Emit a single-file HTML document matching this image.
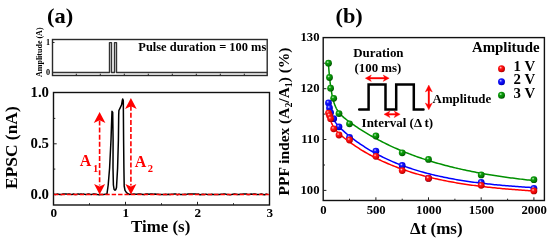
<!DOCTYPE html><html><head><meta charset="utf-8"><title>EPSC and PPF index</title><style>html,body{margin:0;padding:0;background:#fff;}svg{display:block;filter:blur(0.3px);}</style></head><body>
<svg width="550" height="241" viewBox="0 0 550 241">
<defs>
<radialGradient id="gR" cx="0.38" cy="0.35" r="0.65"><stop offset="0" stop-color="#ffd0d0"/><stop offset="0.3" stop-color="#ff1a1a"/><stop offset="0.8" stop-color="#e00000"/><stop offset="1" stop-color="#a00000"/></radialGradient>
<radialGradient id="gB" cx="0.38" cy="0.35" r="0.65"><stop offset="0" stop-color="#d0d0ff"/><stop offset="0.3" stop-color="#1a1aff"/><stop offset="0.8" stop-color="#0000e0"/><stop offset="1" stop-color="#0000a0"/></radialGradient>
<radialGradient id="gG" cx="0.38" cy="0.35" r="0.65"><stop offset="0" stop-color="#c8f0c8"/><stop offset="0.3" stop-color="#10a010"/><stop offset="0.8" stop-color="#007a00"/><stop offset="1" stop-color="#004a00"/></radialGradient>
</defs>
<rect width="550" height="241" fill="#fff"/>
<text x="47" y="23" font-size="21" textLength="26.2" lengthAdjust="spacingAndGlyphs" font-family="'Liberation Serif', 'Times New Roman', serif" font-weight="bold" fill="#000">(a)</text>
<rect x="52.5" y="39.5" width="214.7" height="36.0" fill="none" stroke="#2a2a2a" stroke-width="1.4"/>
<path d="M76.3,75.5V73.7M100.3,75.5V73.7M124.3,75.5V73.7M148.3,75.5V73.7M172.3,75.5V73.7M196.3,75.5V73.7M220.3,75.5V73.7M244.3,75.5V73.7M52.5,42.5H54.5M52.5,72.5H54.5" stroke="#222" stroke-width="1" fill="none"/>
<path d="M52.5,72.5H109.5V42.6H111.5V72.5H114.5V42.6H116.5V72.5H267.2" fill="none" stroke="#333" stroke-width="1.4" stroke-linejoin="round"/>
<text x="50" y="45" font-size="8.2" font-family="'Liberation Serif', 'Times New Roman', serif" font-weight="bold" text-anchor="end">1</text>
<text x="50" y="74.5" font-size="8.2" font-family="'Liberation Serif', 'Times New Roman', serif" font-weight="bold" text-anchor="end">0</text>
<text transform="translate(42.2,77) rotate(-90)" font-size="8" font-family="'Liberation Serif', 'Times New Roman', serif" font-weight="bold">Amplitude (A)</text>
<text x="138.3" y="51.4" font-size="11.6" textLength="128.0" lengthAdjust="spacingAndGlyphs" font-family="'Liberation Serif', 'Times New Roman', serif" font-weight="bold">Pulse duration = 100 ms</text>
<rect x="53.5" y="92.5" width="216.0" height="112.5" fill="none" stroke="#111" stroke-width="1.4"/>
<path d="M89.5,205V203.2M125.5,205V201.8M161.5,205V203.2M197.5,205V201.8M233.5,205V203.2M53.5,194.5H56.7M53.5,169.1H55.3M53.5,143.8H56.7M53.5,118.4H55.3" stroke="#222" stroke-width="1" fill="none"/>
<text x="49" y="97.2" font-size="14.8" font-family="'Liberation Serif', 'Times New Roman', serif" font-weight="bold" text-anchor="end">1.0</text>
<text x="49" y="147.9" font-size="14.8" font-family="'Liberation Serif', 'Times New Roman', serif" font-weight="bold" text-anchor="end">0.5</text>
<text x="49" y="198.7" font-size="14.8" font-family="'Liberation Serif', 'Times New Roman', serif" font-weight="bold" text-anchor="end">0.0</text>
<text x="53.7" y="217.3" font-size="13.2" font-family="'Liberation Serif', 'Times New Roman', serif" font-weight="bold" text-anchor="middle">0</text>
<text x="125.7" y="217.3" font-size="13.2" font-family="'Liberation Serif', 'Times New Roman', serif" font-weight="bold" text-anchor="middle">1</text>
<text x="197.7" y="217.3" font-size="13.2" font-family="'Liberation Serif', 'Times New Roman', serif" font-weight="bold" text-anchor="middle">2</text>
<text x="269.7" y="217.3" font-size="13.2" font-family="'Liberation Serif', 'Times New Roman', serif" font-weight="bold" text-anchor="middle">3</text>
<text x="131" y="232" font-size="16.5" textLength="59.3" lengthAdjust="spacingAndGlyphs" font-family="'Liberation Serif', 'Times New Roman', serif" font-weight="bold">Time (s)</text>
<text transform="translate(17,189) rotate(-90)" font-size="16.5" textLength="82.7" lengthAdjust="spacingAndGlyphs" font-family="'Liberation Serif', 'Times New Roman', serif" font-weight="bold">EPSC (nA)</text>
<path d="M54.0,194.3 L55.5,194.5 L57.0,194.1 L58.5,194.3 L60.0,194.6 L61.5,194.6 L63.0,194.0 L64.5,194.1 L66.0,193.9 L67.5,194.3 L69.0,193.9 L70.5,194.3 L72.0,194.4 L73.5,194.1 L75.0,194.4 L76.5,194.4 L78.0,193.9 L79.5,194.3 L81.0,194.1 L82.5,194.2 L84.0,194.1 L85.5,194.5 L87.0,194.3 L88.5,194.0 L90.0,194.3 L91.5,194.5 L93.0,194.1 L94.5,194.1 L96.0,194.2 L97.5,194.6 L99.0,194.7 L100.5,194.4 L102.0,194.6 L103.5,194.6 L105.0,194.2 L106.5,194.0 L107.0,193.6 L108.2,185.0 L109.6,168.0 L110.5,150.0 L111.0,140.0 L111.5,125.0 L112.0,111.3 L112.7,112.5 L113.1,140.0 L113.0,168.0 L113.4,185.0 L114.1,189.5 L115.0,190.2 L115.8,189.6 L116.5,187.5 L117.6,168.0 L118.4,140.0 L118.7,115.0 L118.9,110.5 L120.3,107.6 L121.6,104.8 L122.2,101.0 L122.7,99.0 L123.3,100.5 L123.6,140.0 L123.9,168.0 L124.2,186.0 L125.0,190.3 L126.5,192.6 L128.2,193.8 L129.5,194.4 L131.0,194.3 L132.5,194.2 L134.0,194.1 L135.5,194.2 L137.0,194.3 L138.5,194.1 L140.0,194.1 L141.5,194.3 L143.0,194.6 L144.5,194.4 L146.0,194.1 L147.5,194.1 L149.0,194.3 L150.5,194.1 L152.0,194.1 L153.5,194.3 L155.0,194.0 L156.5,194.3 L158.0,194.2 L159.5,194.5 L161.0,194.5 L162.5,194.5 L164.0,194.5 L165.5,194.2 L167.0,194.4 L168.5,194.2 L170.0,194.4 L171.5,194.2 L173.0,194.3 L174.5,193.9 L176.0,194.1 L177.5,194.7 L179.0,194.1 L180.5,194.5 L182.0,194.4 L183.5,194.5 L185.0,194.3 L186.5,194.4 L188.0,194.0 L189.5,194.0 L191.0,194.1 L192.5,194.0 L194.0,194.0 L195.5,194.0 L197.0,194.3 L198.5,194.1 L200.0,194.7 L201.5,194.4 L203.0,194.3 L204.5,194.5 L206.0,194.1 L207.5,194.6 L209.0,194.6 L210.5,194.5 L212.0,194.3 L213.5,194.6 L215.0,194.5 L216.5,194.4 L218.0,194.6 L219.5,194.4 L221.0,194.2 L222.5,194.3 L224.0,194.1 L225.5,194.1 L227.0,194.5 L228.5,194.5 L230.0,194.7 L231.5,194.6 L233.0,194.3 L234.5,194.0 L236.0,194.3 L237.5,194.6 L239.0,194.5 L240.5,194.3 L242.0,194.3 L243.5,194.1 L245.0,194.0 L246.5,194.0 L248.0,194.6 L249.5,194.4 L251.0,194.0 L252.5,194.2 L254.0,193.9 L255.5,194.1 L257.0,194.5 L258.5,194.4 L260.0,194.3 L261.5,194.1 L263.0,194.4 L264.5,194.7 L266.0,194.2 L267.5,194.0" fill="none" stroke="#000" stroke-width="1.5" stroke-linejoin="round"/>
<path d="M54.1,194.5H268.9" stroke="#ff0000" stroke-width="1.5" stroke-dasharray="4.4 2"/>
<path d="M99.6,120.5V185.5" stroke="#ff0000" stroke-width="1.6" stroke-dasharray="5 2.1"/>
<path d="M99.6,112L93.8,123L99.6,120.3L105.39999999999999,123Z" fill="#ff0000"/>
<path d="M99.6,194.5L94.1,184.1L99.6,186.4L105.1,184.1Z" fill="#ff0000"/>
<path d="M130.9,105.7V185.5" stroke="#ff0000" stroke-width="1.6" stroke-dasharray="5 2.1"/>
<path d="M130.9,98L125.10000000000001,109L130.9,106.3L136.70000000000002,109Z" fill="#ff0000"/>
<path d="M130.9,194.5L125.4,184.1L130.9,186.4L136.4,184.1Z" fill="#ff0000"/>
<text x="79.8" y="166.4" font-size="16" font-family="'Liberation Serif', 'Times New Roman', serif" font-weight="bold" fill="#ff0000">A</text>
<text x="93" y="172" font-size="10.5" font-family="'Liberation Serif', 'Times New Roman', serif" font-weight="bold" fill="#ff0000">1</text>
<text x="134.8" y="167.3" font-size="16" font-family="'Liberation Serif', 'Times New Roman', serif" font-weight="bold" fill="#ff0000">A</text>
<text x="147.7" y="172.4" font-size="10.5" font-family="'Liberation Serif', 'Times New Roman', serif" font-weight="bold" fill="#ff0000">2</text>
<text x="335.5" y="23" font-size="21" textLength="27.3" lengthAdjust="spacingAndGlyphs" font-family="'Liberation Serif', 'Times New Roman', serif" font-weight="bold" fill="#000">(b)</text>
<rect x="323.2" y="37.6" width="221.2" height="162.9" fill="none" stroke="#111" stroke-width="1.4"/>
<path d="M349.5,200.5V198.7M375.9,200.5V197.3M402.2,200.5V198.7M428.5,200.5V197.3M454.9,200.5V198.7M481.2,200.5V197.3M507.6,200.5V198.7M533.9,200.5V197.3M323.2,190.4H326.4M323.2,165.0H325.0M323.2,139.5H326.4M323.2,114.1H325.0M323.2,88.7H326.4M323.2,63.2H325.0" stroke="#222" stroke-width="1" fill="none"/>
<text x="319.5" y="193.7" font-size="12.7" font-family="'Liberation Serif', 'Times New Roman', serif" font-weight="bold" text-anchor="end">100</text>
<text x="319.5" y="142.8" font-size="12.7" font-family="'Liberation Serif', 'Times New Roman', serif" font-weight="bold" text-anchor="end">110</text>
<text x="319.5" y="92.0" font-size="12.7" font-family="'Liberation Serif', 'Times New Roman', serif" font-weight="bold" text-anchor="end">120</text>
<text x="319.5" y="41.1" font-size="12.7" font-family="'Liberation Serif', 'Times New Roman', serif" font-weight="bold" text-anchor="end">130</text>
<text x="323.5" y="214.3" font-size="12.7" font-family="'Liberation Serif', 'Times New Roman', serif" font-weight="bold" text-anchor="middle">0</text>
<text x="376.2" y="214.3" font-size="12.7" font-family="'Liberation Serif', 'Times New Roman', serif" font-weight="bold" text-anchor="middle">500</text>
<text x="428.8" y="214.3" font-size="12.7" font-family="'Liberation Serif', 'Times New Roman', serif" font-weight="bold" text-anchor="middle">1000</text>
<text x="481.5" y="214.3" font-size="12.7" font-family="'Liberation Serif', 'Times New Roman', serif" font-weight="bold" text-anchor="middle">1500</text>
<text x="534.2" y="214.3" font-size="12.7" font-family="'Liberation Serif', 'Times New Roman', serif" font-weight="bold" text-anchor="middle">2000</text>
<text x="410" y="234" font-size="16" textLength="52.6" lengthAdjust="spacingAndGlyphs" font-family="'Liberation Serif', 'Times New Roman', serif" font-weight="bold">&#916;t (ms)</text>
<text transform="translate(288.7,195.5) rotate(-90)" font-size="15" textLength="148" lengthAdjust="spacingAndGlyphs" font-family="'Liberation Serif', 'Times New Roman', serif" font-weight="bold">PPF index (A<tspan font-size="9.5" dy="3">2</tspan><tspan dy="-3">/A</tspan><tspan font-size="9.5" dy="3">1</tspan><tspan dy="-3">) (%)</tspan></text>
<path d="M328.47,64.34 L328.65,66.71 L328.82,68.95 L329.00,71.09 L329.18,73.12 L329.36,75.04 L329.54,76.87 L329.72,78.61 L329.90,80.26 L330.07,81.84 L330.25,83.33 L330.43,84.76 L330.61,86.11 L330.79,87.40 L330.97,88.62 L331.15,89.79 L331.32,90.91 L331.50,91.97 L331.68,92.98 L331.86,93.95 L332.04,94.87 L332.22,95.75 L332.40,96.59 L332.57,97.39 L332.75,98.16 L332.93,98.89 L333.11,99.59 L333.29,100.27 L333.47,100.91 L333.65,101.53 L333.82,102.12 L334.00,102.68 L334.18,103.23 L334.36,103.75 L334.54,104.25 L334.72,104.74 L334.90,105.20 L335.07,105.65 L335.25,106.08 L335.43,106.49 L335.61,106.89 L335.79,107.28 L335.97,107.65 L336.15,108.01 L336.32,108.36 L336.50,108.70 L336.68,109.03 L336.86,109.34 L337.04,109.65 L337.22,109.95 L337.40,110.24 L337.57,110.52 L337.75,110.80 L337.93,111.06 L338.11,111.32 L338.29,111.58 L338.47,111.83 L338.65,112.07 L338.82,112.30 L339.00,112.53 L339.00,112.53 L340.64,114.44 L342.28,116.09 L343.92,117.56 L345.55,118.93 L347.19,120.22 L348.83,121.46 L350.47,122.66 L352.10,123.83 L353.74,124.97 L355.38,126.09 L357.02,127.19 L358.66,128.26 L360.29,129.32 L361.93,130.36 L363.57,131.38 L365.21,132.39 L366.84,133.37 L368.48,134.34 L370.12,135.30 L371.76,136.24 L373.40,137.16 L375.03,138.06 L376.67,138.95 L378.31,139.83 L379.95,140.69 L381.59,141.54 L383.22,142.37 L384.86,143.19 L386.50,143.99 L388.14,144.78 L389.77,145.56 L391.41,146.32 L393.05,147.07 L394.69,147.81 L396.33,148.54 L397.96,149.25 L399.60,149.95 L401.24,150.64 L402.88,151.32 L404.51,151.98 L406.15,152.64 L407.79,153.28 L409.43,153.91 L411.07,154.54 L412.70,155.15 L414.34,155.75 L415.98,156.34 L417.62,156.92 L419.25,157.49 L420.89,158.05 L422.53,158.60 L424.17,159.15 L425.81,159.68 L427.44,160.20 L429.08,160.72 L430.72,161.23 L432.36,161.72 L433.99,162.21 L435.63,162.69 L437.27,163.17 L438.91,163.63 L440.55,164.09 L442.18,164.54 L443.82,164.98 L445.46,165.41 L447.10,165.84 L448.73,166.26 L450.37,166.67 L452.01,167.08 L453.65,167.48 L455.29,167.87 L456.92,168.26 L458.56,168.63 L460.20,169.01 L461.84,169.37 L463.47,169.73 L465.11,170.09 L466.75,170.43 L468.39,170.78 L470.03,171.11 L471.66,171.44 L473.30,171.77 L474.94,172.09 L476.58,172.40 L478.21,172.71 L479.85,173.01 L481.49,173.31 L483.13,173.60 L484.77,173.89 L486.40,174.17 L488.04,174.45 L489.68,174.73 L491.32,175.00 L492.96,175.26 L494.59,175.52 L496.23,175.78 L497.87,176.03 L499.51,176.27 L501.14,176.52 L502.78,176.76 L504.42,176.99 L506.06,177.22 L507.70,177.45 L509.33,177.67 L510.97,177.89 L512.61,178.10 L514.25,178.32 L515.88,178.52 L517.52,178.73 L519.16,178.93 L520.80,179.13 L522.44,179.32 L524.07,179.51 L525.71,179.70 L527.35,179.89 L528.99,180.07 L530.62,180.25 L532.26,180.42 L533.90,180.59" fill="none" stroke="#009000" stroke-width="1.5"/>
<path d="M328.47,103.66 L328.65,104.57 L328.82,105.44 L329.00,106.27 L329.18,107.06 L329.36,107.82 L329.54,108.55 L329.72,109.25 L329.90,109.92 L330.07,110.57 L330.25,111.18 L330.43,111.78 L330.61,112.35 L330.79,112.89 L330.97,113.42 L331.15,113.93 L331.32,114.42 L331.50,114.90 L331.68,115.35 L331.86,115.79 L332.04,116.22 L332.22,116.63 L332.40,117.03 L332.57,117.42 L332.75,117.79 L332.93,118.16 L333.11,118.51 L333.29,118.85 L333.47,119.18 L333.65,119.51 L333.82,119.83 L334.00,120.13 L334.18,120.43 L334.36,120.73 L334.54,121.01 L334.72,121.29 L334.90,121.56 L335.07,121.83 L335.25,122.09 L335.43,122.35 L335.61,122.60 L335.79,122.85 L335.97,123.09 L336.15,123.33 L336.32,123.56 L336.50,123.79 L336.68,124.02 L336.86,124.24 L337.04,124.46 L337.22,124.68 L337.40,124.89 L337.57,125.10 L337.75,125.31 L337.93,125.51 L338.11,125.71 L338.29,125.91 L338.47,126.11 L338.65,126.31 L338.82,126.50 L339.00,126.69 L339.00,126.69 L340.64,128.37 L342.28,129.93 L343.92,131.42 L345.55,132.85 L347.19,134.23 L348.83,135.57 L350.47,136.87 L352.10,138.14 L353.74,139.38 L355.38,140.59 L357.02,141.77 L358.66,142.93 L360.29,144.05 L361.93,145.15 L363.57,146.23 L365.21,147.28 L366.84,148.30 L368.48,149.30 L370.12,150.28 L371.76,151.24 L373.40,152.17 L375.03,153.08 L376.67,153.97 L378.31,154.84 L379.95,155.69 L381.59,156.52 L383.22,157.34 L384.86,158.13 L386.50,158.90 L388.14,159.66 L389.77,160.40 L391.41,161.12 L393.05,161.82 L394.69,162.51 L396.33,163.19 L397.96,163.84 L399.60,164.49 L401.24,165.11 L402.88,165.73 L404.51,166.32 L406.15,166.91 L407.79,167.48 L409.43,168.04 L411.07,168.58 L412.70,169.12 L414.34,169.64 L415.98,170.14 L417.62,170.64 L419.25,171.13 L420.89,171.60 L422.53,172.06 L424.17,172.51 L425.81,172.96 L427.44,173.39 L429.08,173.81 L430.72,174.22 L432.36,174.62 L433.99,175.02 L435.63,175.40 L437.27,175.78 L438.91,176.14 L440.55,176.50 L442.18,176.85 L443.82,177.19 L445.46,177.52 L447.10,177.85 L448.73,178.17 L450.37,178.48 L452.01,178.78 L453.65,179.08 L455.29,179.37 L456.92,179.65 L458.56,179.93 L460.20,180.20 L461.84,180.46 L463.47,180.72 L465.11,180.97 L466.75,181.22 L468.39,181.46 L470.03,181.70 L471.66,181.92 L473.30,182.15 L474.94,182.37 L476.58,182.58 L478.21,182.79 L479.85,182.99 L481.49,183.19 L483.13,183.39 L484.77,183.58 L486.40,183.77 L488.04,183.95 L489.68,184.12 L491.32,184.30 L492.96,184.47 L494.59,184.63 L496.23,184.79 L497.87,184.95 L499.51,185.11 L501.14,185.26 L502.78,185.40 L504.42,185.55 L506.06,185.69 L507.70,185.82 L509.33,185.96 L510.97,186.09 L512.61,186.22 L514.25,186.34 L515.88,186.46 L517.52,186.58 L519.16,186.70 L520.80,186.81 L522.44,186.93 L524.07,187.03 L525.71,187.14 L527.35,187.24 L528.99,187.34 L530.62,187.44 L532.26,187.54 L533.90,187.63" fill="none" stroke="#0000ff" stroke-width="1.5"/>
<path d="M328.47,112.62 L328.65,113.45 L328.82,114.25 L329.00,115.01 L329.18,115.74 L329.36,116.44 L329.54,117.11 L329.72,117.74 L329.90,118.35 L330.07,118.94 L330.25,119.50 L330.43,120.04 L330.61,120.56 L330.79,121.06 L330.97,121.54 L331.15,122.00 L331.32,122.44 L331.50,122.87 L331.68,123.28 L331.86,123.68 L332.04,124.06 L332.22,124.43 L332.40,124.79 L332.57,125.14 L332.75,125.48 L332.93,125.81 L333.11,126.12 L333.29,126.43 L333.47,126.73 L333.65,127.02 L333.82,127.31 L334.00,127.58 L334.18,127.85 L334.36,128.11 L334.54,128.37 L334.72,128.62 L334.90,128.87 L335.07,129.10 L335.25,129.34 L335.43,129.57 L335.61,129.79 L335.79,130.02 L335.97,130.23 L336.15,130.45 L336.32,130.65 L336.50,130.86 L336.68,131.06 L336.86,131.26 L337.04,131.46 L337.22,131.65 L337.40,131.84 L337.57,132.03 L337.75,132.22 L337.93,132.40 L338.11,132.58 L338.29,132.76 L338.47,132.94 L338.65,133.12 L338.82,133.29 L339.00,133.46 L339.00,133.46 L340.64,134.97 L342.28,136.38 L343.92,137.73 L345.55,139.03 L347.19,140.28 L348.83,141.50 L350.47,142.69 L352.10,143.85 L353.74,144.98 L355.38,146.08 L357.02,147.17 L358.66,148.22 L360.29,149.26 L361.93,150.27 L363.57,151.26 L365.21,152.23 L366.84,153.17 L368.48,154.10 L370.12,155.00 L371.76,155.89 L373.40,156.75 L375.03,157.60 L376.67,158.43 L378.31,159.24 L379.95,160.03 L381.59,160.81 L383.22,161.56 L384.86,162.30 L386.50,163.03 L388.14,163.74 L389.77,164.43 L391.41,165.11 L393.05,165.77 L394.69,166.42 L396.33,167.06 L397.96,167.68 L399.60,168.28 L401.24,168.88 L402.88,169.46 L404.51,170.03 L406.15,170.58 L407.79,171.13 L409.43,171.66 L411.07,172.18 L412.70,172.69 L414.34,173.18 L415.98,173.67 L417.62,174.14 L419.25,174.61 L420.89,175.06 L422.53,175.51 L424.17,175.94 L425.81,176.37 L427.44,176.79 L429.08,177.19 L430.72,177.59 L432.36,177.98 L433.99,178.36 L435.63,178.73 L437.27,179.10 L438.91,179.45 L440.55,179.80 L442.18,180.14 L443.82,180.48 L445.46,180.80 L447.10,181.12 L448.73,181.43 L450.37,181.74 L452.01,182.04 L453.65,182.33 L455.29,182.62 L456.92,182.89 L458.56,183.17 L460.20,183.43 L461.84,183.70 L463.47,183.95 L465.11,184.20 L466.75,184.45 L468.39,184.68 L470.03,184.92 L471.66,185.15 L473.30,185.37 L474.94,185.59 L476.58,185.80 L478.21,186.01 L479.85,186.22 L481.49,186.42 L483.13,186.61 L484.77,186.80 L486.40,186.99 L488.04,187.17 L489.68,187.35 L491.32,187.53 L492.96,187.70 L494.59,187.87 L496.23,188.03 L497.87,188.19 L499.51,188.35 L501.14,188.50 L502.78,188.65 L504.42,188.80 L506.06,188.94 L507.70,189.08 L509.33,189.22 L510.97,189.35 L512.61,189.48 L514.25,189.61 L515.88,189.74 L517.52,189.86 L519.16,189.98 L520.80,190.10 L522.44,190.21 L524.07,190.33 L525.71,190.44 L527.35,190.54 L528.99,190.65 L530.62,190.75 L532.26,190.85 L533.90,190.95" fill="none" stroke="#ff0000" stroke-width="1.5"/>
<circle cx="328.5" cy="63.2" r="3.4" fill="url(#gG)"/>
<circle cx="329.5" cy="77.5" r="3.4" fill="url(#gG)"/>
<circle cx="330.6" cy="88.2" r="3.4" fill="url(#gG)"/>
<circle cx="333.7" cy="98.3" r="3.4" fill="url(#gG)"/>
<circle cx="339.0" cy="113.6" r="3.4" fill="url(#gG)"/>
<circle cx="349.5" cy="123.8" r="3.4" fill="url(#gG)"/>
<circle cx="375.9" cy="136.0" r="3.4" fill="url(#gG)"/>
<circle cx="402.2" cy="152.8" r="3.4" fill="url(#gG)"/>
<circle cx="428.5" cy="159.4" r="3.4" fill="url(#gG)"/>
<circle cx="481.2" cy="174.9" r="3.4" fill="url(#gG)"/>
<circle cx="533.9" cy="179.7" r="3.4" fill="url(#gG)"/>
<circle cx="328.5" cy="102.9" r="3.4" fill="url(#gB)"/>
<circle cx="329.5" cy="108.0" r="3.4" fill="url(#gB)"/>
<circle cx="330.6" cy="112.6" r="3.4" fill="url(#gB)"/>
<circle cx="333.7" cy="118.7" r="3.4" fill="url(#gB)"/>
<circle cx="339.0" cy="126.8" r="3.4" fill="url(#gB)"/>
<circle cx="349.5" cy="137.5" r="3.4" fill="url(#gB)"/>
<circle cx="375.9" cy="151.2" r="3.4" fill="url(#gB)"/>
<circle cx="402.2" cy="165.5" r="3.4" fill="url(#gB)"/>
<circle cx="428.5" cy="178.2" r="3.4" fill="url(#gB)"/>
<circle cx="481.2" cy="182.3" r="3.4" fill="url(#gB)"/>
<circle cx="533.9" cy="188.4" r="3.4" fill="url(#gB)"/>
<circle cx="328.5" cy="113.1" r="3.4" fill="url(#gR)"/>
<circle cx="329.5" cy="115.6" r="3.4" fill="url(#gR)"/>
<circle cx="330.6" cy="118.7" r="3.4" fill="url(#gR)"/>
<circle cx="333.7" cy="128.8" r="3.4" fill="url(#gR)"/>
<circle cx="339.0" cy="135.0" r="3.4" fill="url(#gR)"/>
<circle cx="349.5" cy="140.0" r="3.4" fill="url(#gR)"/>
<circle cx="375.9" cy="156.3" r="3.4" fill="url(#gR)"/>
<circle cx="402.2" cy="170.6" r="3.4" fill="url(#gR)"/>
<circle cx="428.5" cy="178.4" r="3.4" fill="url(#gR)"/>
<circle cx="481.2" cy="185.3" r="3.4" fill="url(#gR)"/>
<circle cx="533.9" cy="190.9" r="3.4" fill="url(#gR)"/>
<text x="472.0" y="51.7" font-size="13.8" textLength="67.7" lengthAdjust="spacingAndGlyphs" font-family="'Liberation Serif', 'Times New Roman', serif" font-weight="bold">Amplitude</text>
<circle cx="501.5" cy="68.7" r="3.5" fill="url(#gR)"/>
<text x="513.6" y="70.9" font-size="13.8" textLength="21.6" lengthAdjust="spacingAndGlyphs" font-family="'Liberation Serif', 'Times New Roman', serif" font-weight="bold">1 V</text>
<circle cx="501.5" cy="81.8" r="3.5" fill="url(#gB)"/>
<text x="513.6" y="84.3" font-size="13.8" textLength="21.6" lengthAdjust="spacingAndGlyphs" font-family="'Liberation Serif', 'Times New Roman', serif" font-weight="bold">2 V</text>
<circle cx="501.5" cy="95.2" r="3.5" fill="url(#gG)"/>
<text x="513.6" y="97.6" font-size="13.8" textLength="21.6" lengthAdjust="spacingAndGlyphs" font-family="'Liberation Serif', 'Times New Roman', serif" font-weight="bold">3 V</text>
<text x="353.2" y="57.1" font-size="12.8" textLength="50.4" lengthAdjust="spacingAndGlyphs" font-family="'Liberation Serif', 'Times New Roman', serif" font-weight="bold">Duration</text>
<text x="354.5" y="72.1" font-size="12.8" textLength="46.9" lengthAdjust="spacingAndGlyphs" font-family="'Liberation Serif', 'Times New Roman', serif" font-weight="bold">(100 ms)</text>
<path d="M359.2,109.5H368.6V84.6H385.5V109.5H396.2V84.6H413.8V109.5H423.5" fill="none" stroke="#000" stroke-width="2.5" stroke-linecap="round" stroke-linejoin="miter"/>
<path d="M369.12,78.2H385.38" stroke="#ff0000" stroke-width="1.9"/><path d="M365.3,78.2L371.3,75.0L369.62,78.2L371.3,81.4Z M389.2,78.2L383.2,75.0L384.88,78.2L383.2,81.4Z" fill="#ff0000" stroke="#ff0000" stroke-width="0.4" stroke-linejoin="round"/>
<path d="M387.82,114.3H396.38" stroke="#ff0000" stroke-width="1.9"/><path d="M384.0,114.3L390.0,111.0L388.32,114.3L390.0,117.6Z M400.2,114.3L394.2,111.0L395.88,114.3L394.2,117.6Z" fill="#ff0000" stroke="#ff0000" stroke-width="0.4" stroke-linejoin="round"/>
<path d="M428.8,89.496V105.404" stroke="#ff0000" stroke-width="1.9"/><path d="M428.8,85.1L425.3,91.89999999999999L428.8,89.996L432.3,91.89999999999999Z M428.8,109.8L425.3,103.0L428.8,104.904L432.3,103.0Z" fill="#ff0000" stroke="#ff0000" stroke-width="0.4" stroke-linejoin="round"/>
<text x="432.6" y="103.3" font-size="12.6" textLength="58.6" lengthAdjust="spacingAndGlyphs" font-family="'Liberation Serif', 'Times New Roman', serif" font-weight="bold">Amplitude</text>
<text x="361.6" y="126.9" font-size="12.7" textLength="71.6" lengthAdjust="spacingAndGlyphs" font-family="'Liberation Serif', 'Times New Roman', serif" font-weight="bold">Interval (&#916; t)</text>
</svg></body></html>
